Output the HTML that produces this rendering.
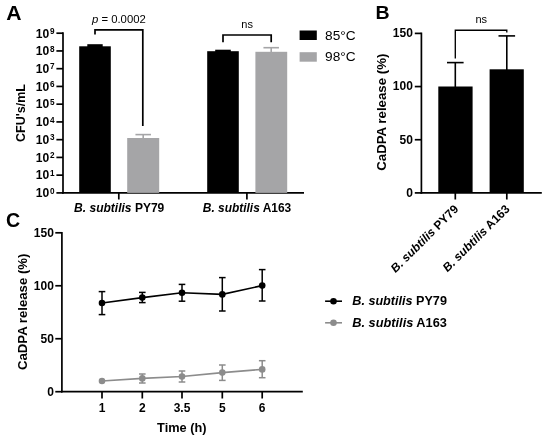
<!DOCTYPE html>
<html lang="en"><head><meta charset="utf-8"><title>Figure</title>
<style>
html,body{margin:0;padding:0;background:#fff;}
svg{display:block;font-family:"Liberation Sans",sans-serif;}
</style></head>
<body>
<svg width="550" height="441" viewBox="0 0 550 441">
<rect width="550" height="441" fill="#fff"/>
<text x="6.3" y="19.5" font-size="19.8" font-weight="bold" text-anchor="start" fill="#000" textLength="15.3" lengthAdjust="spacingAndGlyphs">A</text>
<line x1="63" y1="32.35" x2="63" y2="193.75" stroke="#000" stroke-width="1.7" />
<line x1="62.15" y1="192.9" x2="304" y2="192.9" stroke="#000" stroke-width="1.7" />
<line x1="56.4" y1="192.9" x2="63" y2="192.9" stroke="#000" stroke-width="1.7" />
<text x="49.3" y="197.2" font-size="12.1" font-weight="bold" text-anchor="end" fill="#000" >10</text>
<text x="50.0" y="193.5" font-size="8.2" font-weight="bold" text-anchor="start" fill="#000" >0</text>
<line x1="56.4" y1="175.15555555555557" x2="63" y2="175.15555555555557" stroke="#000" stroke-width="1.7" />
<text x="49.3" y="179.46" font-size="12.1" font-weight="bold" text-anchor="end" fill="#000" >10</text>
<text x="50.0" y="175.76" font-size="8.2" font-weight="bold" text-anchor="start" fill="#000" >1</text>
<line x1="56.4" y1="157.41111111111113" x2="63" y2="157.41111111111113" stroke="#000" stroke-width="1.7" />
<text x="49.3" y="161.71" font-size="12.1" font-weight="bold" text-anchor="end" fill="#000" >10</text>
<text x="50.0" y="158.01" font-size="8.2" font-weight="bold" text-anchor="start" fill="#000" >2</text>
<line x1="56.4" y1="139.66666666666669" x2="63" y2="139.66666666666669" stroke="#000" stroke-width="1.7" />
<text x="49.3" y="143.97" font-size="12.1" font-weight="bold" text-anchor="end" fill="#000" >10</text>
<text x="50.0" y="140.27" font-size="8.2" font-weight="bold" text-anchor="start" fill="#000" >3</text>
<line x1="56.4" y1="121.92222222222223" x2="63" y2="121.92222222222223" stroke="#000" stroke-width="1.7" />
<text x="49.3" y="126.22" font-size="12.1" font-weight="bold" text-anchor="end" fill="#000" >10</text>
<text x="50.0" y="122.52" font-size="8.2" font-weight="bold" text-anchor="start" fill="#000" >4</text>
<line x1="56.4" y1="104.17777777777779" x2="63" y2="104.17777777777779" stroke="#000" stroke-width="1.7" />
<text x="49.3" y="108.48" font-size="12.1" font-weight="bold" text-anchor="end" fill="#000" >10</text>
<text x="50.0" y="104.78" font-size="8.2" font-weight="bold" text-anchor="start" fill="#000" >5</text>
<line x1="56.4" y1="86.43333333333334" x2="63" y2="86.43333333333334" stroke="#000" stroke-width="1.7" />
<text x="49.3" y="90.73" font-size="12.1" font-weight="bold" text-anchor="end" fill="#000" >10</text>
<text x="50.0" y="87.03" font-size="8.2" font-weight="bold" text-anchor="start" fill="#000" >6</text>
<line x1="56.4" y1="68.6888888888889" x2="63" y2="68.6888888888889" stroke="#000" stroke-width="1.7" />
<text x="49.3" y="72.99" font-size="12.1" font-weight="bold" text-anchor="end" fill="#000" >10</text>
<text x="50.0" y="69.29" font-size="8.2" font-weight="bold" text-anchor="start" fill="#000" >7</text>
<line x1="56.4" y1="50.94444444444446" x2="63" y2="50.94444444444446" stroke="#000" stroke-width="1.7" />
<text x="49.3" y="55.24" font-size="12.1" font-weight="bold" text-anchor="end" fill="#000" >10</text>
<text x="50.0" y="51.54" font-size="8.2" font-weight="bold" text-anchor="start" fill="#000" >8</text>
<line x1="56.4" y1="33.20000000000002" x2="63" y2="33.20000000000002" stroke="#000" stroke-width="1.7" />
<text x="49.3" y="37.5" font-size="12.1" font-weight="bold" text-anchor="end" fill="#000" >10</text>
<text x="50.0" y="33.8" font-size="8.2" font-weight="bold" text-anchor="start" fill="#000" >9</text>
<text transform="translate(24.9,113) rotate(-90)" font-size="13" font-weight="bold" text-anchor="middle" textLength="58" lengthAdjust="spacingAndGlyphs">CFU's/mL</text>
<rect x="79.2" y="46.3" width="31.60" height="146.60" fill="#000"/>
<rect x="87.3" y="44.2" width="15.40" height="3.00" fill="#000"/>
<rect x="127.2" y="138" width="32.00" height="54.90" fill="#a5a5a7"/>
<line x1="143.2" y1="134.6" x2="143.2" y2="139" stroke="#a5a5a7" stroke-width="1.6" />
<line x1="135.45" y1="134.6" x2="150.95" y2="134.6" stroke="#a5a5a7" stroke-width="1.6" />
<rect x="207.2" y="51.2" width="31.60" height="141.70" fill="#000"/>
<rect x="215.2" y="49.7" width="15.60" height="2.50" fill="#000"/>
<rect x="255.4" y="51.8" width="31.80" height="141.10" fill="#a5a5a7"/>
<line x1="271.2" y1="47.7" x2="271.2" y2="52" stroke="#a5a5a7" stroke-width="1.6" />
<line x1="263.45" y1="47.7" x2="278.95" y2="47.7" stroke="#a5a5a7" stroke-width="1.6" />
<line x1="118.8" y1="192.9" x2="118.8" y2="199.5" stroke="#000" stroke-width="1.7" />
<line x1="246.9" y1="192.9" x2="246.9" y2="199.5" stroke="#000" stroke-width="1.7" />
<text x="119.2" y="212.3" font-size="12.2" font-weight="bold" text-anchor="middle" textLength="90.2" lengthAdjust="spacingAndGlyphs" ><tspan font-style="italic">B. subtilis</tspan> PY79</text>
<text x="247" y="212.3" font-size="12.2" font-weight="bold" text-anchor="middle" textLength="88.4" lengthAdjust="spacingAndGlyphs" ><tspan font-style="italic">B. subtilis</tspan> A163</text>
<polyline points="95,34.6 95,29.9 142.8,29.9 142.8,126" fill="none" stroke="#000" stroke-width="1.7"/>
<polyline points="223,42.2 223,35 271.2,35 271.2,42.2" fill="none" stroke="#000" stroke-width="1.7"/>
<text x="92" y="22.8" font-size="11" textLength="53.8" lengthAdjust="spacingAndGlyphs"><tspan font-style="italic">p</tspan> = 0.0002</text>
<text x="247.1" y="28" font-size="11" font-weight="normal" text-anchor="middle" fill="#000" >ns</text>
<rect x="299.6" y="30.5" width="17.20" height="9.50" fill="#000"/>
<rect x="299.6" y="52.2" width="17.20" height="9.50" fill="#a5a5a7"/>
<text x="325.1" y="40.4" font-size="13.7" font-weight="normal" text-anchor="start" fill="#000" >85°C</text>
<text x="325.1" y="61.2" font-size="13.7" font-weight="normal" text-anchor="start" fill="#000" >98°C</text>
<text x="375.4" y="19.3" font-size="19.2" font-weight="bold" text-anchor="start" fill="#000" textLength="14.1" lengthAdjust="spacingAndGlyphs">B</text>
<line x1="421.4" y1="32.55" x2="421.4" y2="193.75" stroke="#000" stroke-width="1.7" />
<line x1="420.54999999999995" y1="192.9" x2="541.8" y2="192.9" stroke="#000" stroke-width="1.7" />
<line x1="414.79999999999995" y1="192.9" x2="421.4" y2="192.9" stroke="#000" stroke-width="1.7" />
<text x="412.9" y="196.8" font-size="12" font-weight="bold" text-anchor="end" fill="#000" >0</text>
<line x1="414.79999999999995" y1="139.73333333333335" x2="421.4" y2="139.73333333333335" stroke="#000" stroke-width="1.7" />
<text x="412.9" y="143.63" font-size="12" font-weight="bold" text-anchor="end" fill="#000" >50</text>
<line x1="414.79999999999995" y1="86.56666666666668" x2="421.4" y2="86.56666666666668" stroke="#000" stroke-width="1.7" />
<text x="412.9" y="90.47" font-size="12" font-weight="bold" text-anchor="end" fill="#000" >100</text>
<line x1="414.79999999999995" y1="33.400000000000006" x2="421.4" y2="33.400000000000006" stroke="#000" stroke-width="1.7" />
<text x="412.9" y="37.3" font-size="12" font-weight="bold" text-anchor="end" fill="#000" >150</text>
<text transform="translate(386.3,112.2) rotate(-90)" font-size="13" font-weight="bold" text-anchor="middle" textLength="117.2" lengthAdjust="spacingAndGlyphs">CaDPA release (%)</text>
<rect x="438.3" y="86.5" width="34.30" height="106.40" fill="#000"/>
<line x1="455.3" y1="62.6" x2="455.3" y2="87" stroke="#000" stroke-width="1.6" />
<line x1="447.0" y1="62.6" x2="463.6" y2="62.6" stroke="#000" stroke-width="1.6" />
<rect x="489.6" y="69.3" width="34.20" height="123.60" fill="#000"/>
<line x1="506.8" y1="35.9" x2="506.8" y2="70" stroke="#000" stroke-width="1.6" />
<line x1="498.5" y1="35.9" x2="515.1" y2="35.9" stroke="#000" stroke-width="1.6" />
<line x1="455.3" y1="192.9" x2="455.3" y2="199.5" stroke="#000" stroke-width="1.7" />
<line x1="506.8" y1="192.9" x2="506.8" y2="199.5" stroke="#000" stroke-width="1.7" />
<polyline points="455.3,58.6 455.3,30.2 506.8,30.2 506.8,32.6" fill="none" stroke="#000" stroke-width="1.35"/>
<text x="481.3" y="23" font-size="11" font-weight="normal" text-anchor="middle" fill="#000" >ns</text>
<g transform="translate(459.2,209.7) rotate(-45)">
<text x="0" y="0" font-size="12.0" font-weight="bold" text-anchor="end" ><tspan font-style="italic">B. subtilis</tspan> PY79</text>
</g>
<g transform="translate(510.4,209.7) rotate(-45)">
<text x="0" y="0" font-size="12.0" font-weight="bold" text-anchor="end" ><tspan font-style="italic">B. subtilis</tspan> A163</text>
</g>
<text x="6.1" y="226.8" font-size="19.6" font-weight="bold" text-anchor="start" fill="#000" >C</text>
<line x1="61.9" y1="231.95000000000002" x2="61.9" y2="392.55" stroke="#000" stroke-width="1.7" />
<line x1="61.05" y1="391.7" x2="302.8" y2="391.7" stroke="#000" stroke-width="1.7" />
<line x1="55.3" y1="391.7" x2="61.9" y2="391.7" stroke="#000" stroke-width="1.7" />
<text x="53.9" y="395.6" font-size="12" font-weight="bold" text-anchor="end" fill="#000" >0</text>
<line x1="55.3" y1="338.73333333333335" x2="61.9" y2="338.73333333333335" stroke="#000" stroke-width="1.7" />
<text x="53.9" y="342.63" font-size="12" font-weight="bold" text-anchor="end" fill="#000" >50</text>
<line x1="55.3" y1="285.76666666666665" x2="61.9" y2="285.76666666666665" stroke="#000" stroke-width="1.7" />
<text x="53.9" y="289.67" font-size="12" font-weight="bold" text-anchor="end" fill="#000" >100</text>
<line x1="55.3" y1="232.8" x2="61.9" y2="232.8" stroke="#000" stroke-width="1.7" />
<text x="53.9" y="236.7" font-size="12" font-weight="bold" text-anchor="end" fill="#000" >150</text>
<text transform="translate(27.2,311.8) rotate(-90)" font-size="13" font-weight="bold" text-anchor="middle" textLength="116.4" lengthAdjust="spacingAndGlyphs">CaDPA release (%)</text>
<line x1="102" y1="391.7" x2="102" y2="398.5" stroke="#000" stroke-width="1.7" />
<text x="102" y="411.9" font-size="12" font-weight="bold" text-anchor="middle" fill="#000" >1</text>
<line x1="142.3" y1="391.7" x2="142.3" y2="398.5" stroke="#000" stroke-width="1.7" />
<text x="142.3" y="411.9" font-size="12" font-weight="bold" text-anchor="middle" fill="#000" >2</text>
<line x1="182" y1="391.7" x2="182" y2="398.5" stroke="#000" stroke-width="1.7" />
<text x="182" y="411.9" font-size="12" font-weight="bold" text-anchor="middle" fill="#000" >3.5</text>
<line x1="222.3" y1="391.7" x2="222.3" y2="398.5" stroke="#000" stroke-width="1.7" />
<text x="222.3" y="411.9" font-size="12" font-weight="bold" text-anchor="middle" fill="#000" >5</text>
<line x1="262.2" y1="391.7" x2="262.2" y2="398.5" stroke="#000" stroke-width="1.7" />
<text x="262.2" y="411.9" font-size="12" font-weight="bold" text-anchor="middle" fill="#000" >6</text>
<text x="181.8" y="432.2" font-size="13" font-weight="bold" text-anchor="middle" fill="#000" textLength="49.4" lengthAdjust="spacingAndGlyphs">Time (h)</text>
<polyline points="102,303 142.3,297.6 182,292.8 222.3,294.4 262.2,285.6" fill="none" stroke="#000" stroke-width="1.6"/>
<line x1="102" y1="291.6" x2="102" y2="314.6" stroke="#000" stroke-width="1.5" />
<line x1="98.7" y1="291.6" x2="105.3" y2="291.6" stroke="#000" stroke-width="1.5" />
<line x1="98.7" y1="314.6" x2="105.3" y2="314.6" stroke="#000" stroke-width="1.5" />
<circle cx="102" cy="303" r="3.3" fill="#000"/>
<line x1="142.3" y1="292.4" x2="142.3" y2="302.6" stroke="#000" stroke-width="1.5" />
<line x1="139.0" y1="292.4" x2="145.60000000000002" y2="292.4" stroke="#000" stroke-width="1.5" />
<line x1="139.0" y1="302.6" x2="145.60000000000002" y2="302.6" stroke="#000" stroke-width="1.5" />
<circle cx="142.3" cy="297.6" r="3.3" fill="#000"/>
<line x1="182" y1="284.4" x2="182" y2="301.2" stroke="#000" stroke-width="1.5" />
<line x1="178.7" y1="284.4" x2="185.3" y2="284.4" stroke="#000" stroke-width="1.5" />
<line x1="178.7" y1="301.2" x2="185.3" y2="301.2" stroke="#000" stroke-width="1.5" />
<circle cx="182" cy="292.8" r="3.3" fill="#000"/>
<line x1="222.3" y1="277.6" x2="222.3" y2="311" stroke="#000" stroke-width="1.5" />
<line x1="219.0" y1="277.6" x2="225.60000000000002" y2="277.6" stroke="#000" stroke-width="1.5" />
<line x1="219.0" y1="311" x2="225.60000000000002" y2="311" stroke="#000" stroke-width="1.5" />
<circle cx="222.3" cy="294.4" r="3.3" fill="#000"/>
<line x1="262.2" y1="269.6" x2="262.2" y2="301" stroke="#000" stroke-width="1.5" />
<line x1="258.9" y1="269.6" x2="265.5" y2="269.6" stroke="#000" stroke-width="1.5" />
<line x1="258.9" y1="301" x2="265.5" y2="301" stroke="#000" stroke-width="1.5" />
<circle cx="262.2" cy="285.6" r="3.3" fill="#000"/>
<polyline points="102,381 142.3,378.4 182,376.5 222.3,372.6 262.2,369.4" fill="none" stroke="#8c8c8c" stroke-width="1.6"/>
<circle cx="102" cy="381" r="3.3" fill="#8c8c8c"/>
<line x1="142.3" y1="374" x2="142.3" y2="383" stroke="#8c8c8c" stroke-width="1.5" />
<line x1="139.0" y1="374" x2="145.60000000000002" y2="374" stroke="#8c8c8c" stroke-width="1.5" />
<line x1="139.0" y1="383" x2="145.60000000000002" y2="383" stroke="#8c8c8c" stroke-width="1.5" />
<circle cx="142.3" cy="378.4" r="3.3" fill="#8c8c8c"/>
<line x1="182" y1="371" x2="182" y2="382" stroke="#8c8c8c" stroke-width="1.5" />
<line x1="178.7" y1="371" x2="185.3" y2="371" stroke="#8c8c8c" stroke-width="1.5" />
<line x1="178.7" y1="382" x2="185.3" y2="382" stroke="#8c8c8c" stroke-width="1.5" />
<circle cx="182" cy="376.5" r="3.3" fill="#8c8c8c"/>
<line x1="222.3" y1="365" x2="222.3" y2="380.4" stroke="#8c8c8c" stroke-width="1.5" />
<line x1="219.0" y1="365" x2="225.60000000000002" y2="365" stroke="#8c8c8c" stroke-width="1.5" />
<line x1="219.0" y1="380.4" x2="225.60000000000002" y2="380.4" stroke="#8c8c8c" stroke-width="1.5" />
<circle cx="222.3" cy="372.6" r="3.3" fill="#8c8c8c"/>
<line x1="262.2" y1="360.7" x2="262.2" y2="377.7" stroke="#8c8c8c" stroke-width="1.5" />
<line x1="258.9" y1="360.7" x2="265.5" y2="360.7" stroke="#8c8c8c" stroke-width="1.5" />
<line x1="258.9" y1="377.7" x2="265.5" y2="377.7" stroke="#8c8c8c" stroke-width="1.5" />
<circle cx="262.2" cy="369.4" r="3.3" fill="#8c8c8c"/>
<line x1="325.1" y1="301.2" x2="342" y2="301.2" stroke="#000" stroke-width="1.6" />
<circle cx="333.5" cy="301.2" r="3.3" fill="#000"/>
<line x1="325.1" y1="322.8" x2="342" y2="322.8" stroke="#8c8c8c" stroke-width="1.6" />
<circle cx="333.5" cy="322.8" r="3.3" fill="#8c8c8c"/>
<text x="352.3" y="305.4" font-size="12.4" font-weight="bold" text-anchor="start" textLength="94.6" lengthAdjust="spacingAndGlyphs" ><tspan font-style="italic">B. subtilis</tspan> PY79</text>
<text x="352.3" y="326.8" font-size="12.4" font-weight="bold" text-anchor="start" textLength="94.6" lengthAdjust="spacingAndGlyphs" ><tspan font-style="italic">B. subtilis</tspan> A163</text>
</svg>
</body></html>
